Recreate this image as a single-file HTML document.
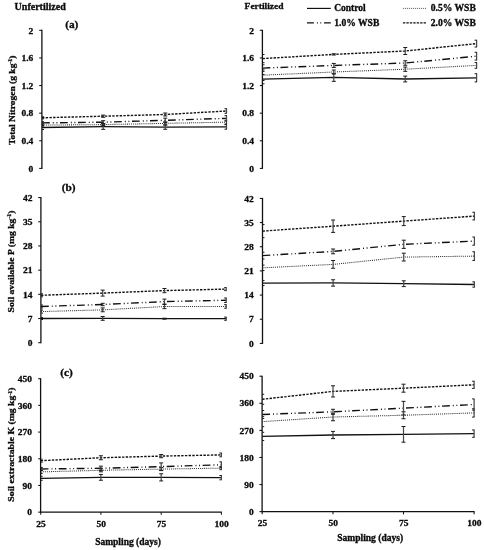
<!DOCTYPE html>
<html><head><meta charset="utf-8"><title>Figure</title>
<style>html,body{margin:0;padding:0;background:#fff}svg{display:block}svg text{font-family:"Liberation Serif","DejaVu Serif",serif}</style></head>
<body>
<svg width="484" height="550" viewBox="0 0 484 550" font-size="9.5" font-weight="bold" fill="#0a0a0a" stroke="#0a0a0a" stroke-width="0.32" paint-order="stroke">
<rect width="484" height="550" fill="#fff" stroke="none"/>
<line x1="41.90" y1="29.80" x2="41.90" y2="168.90" stroke="#111" stroke-width="1.3"/>
<line x1="39.20" y1="30.30" x2="41.90" y2="30.30" stroke="#111" stroke-width="1.05"/>
<text transform="translate(33.30 33.50) scale(1 0.86)" text-anchor="end" >2</text>
<line x1="39.20" y1="57.92" x2="41.90" y2="57.92" stroke="#111" stroke-width="1.05"/>
<text transform="translate(33.30 61.12) scale(1 0.86)" text-anchor="end" >1.6</text>
<line x1="39.20" y1="85.54" x2="41.90" y2="85.54" stroke="#111" stroke-width="1.05"/>
<text transform="translate(33.30 88.74) scale(1 0.86)" text-anchor="end" >1.2</text>
<line x1="39.20" y1="113.16" x2="41.90" y2="113.16" stroke="#111" stroke-width="1.05"/>
<text transform="translate(33.30 116.36) scale(1 0.86)" text-anchor="end" >0.8</text>
<line x1="39.20" y1="140.78" x2="41.90" y2="140.78" stroke="#111" stroke-width="1.05"/>
<text transform="translate(33.30 143.98) scale(1 0.86)" text-anchor="end" >0.4</text>
<line x1="39.20" y1="168.40" x2="41.90" y2="168.40" stroke="#111" stroke-width="1.05"/>
<text transform="translate(33.30 171.60) scale(1 0.86)" text-anchor="end" >0</text>
<path d="M42.00 127.50 L103.20 126.65 L165.25 127.15 L226.50 126.90" fill="none" stroke="#111" stroke-width="1.3"/>
<path d="M42.00 125.50 L44.00 125.50 M42.00 129.50 L44.00 129.50" fill="none" stroke="#1c1c1c" stroke-width="1"/>
<path d="M103.20 123.95 L103.20 129.35" fill="none" stroke="#4a4a4a" stroke-width="1.25"/>
<path d="M101.20 123.95 L105.20 123.95 M101.20 129.35 L105.20 129.35" fill="none" stroke="#1c1c1c" stroke-width="1"/>
<path d="M165.25 125.05 L165.25 129.25" fill="none" stroke="#4a4a4a" stroke-width="1.25"/>
<path d="M163.25 125.05 L167.25 125.05 M163.25 129.25 L167.25 129.25" fill="none" stroke="#1c1c1c" stroke-width="1"/>
<path d="M226.50 124.60 L226.50 129.20" fill="none" stroke="#4a4a4a" stroke-width="1.25"/>
<path d="M224.50 124.60 L226.95 124.60 M224.50 129.20 L226.95 129.20" fill="none" stroke="#1c1c1c" stroke-width="1"/>
<path d="M42.00 125.10 L103.20 124.60 L165.25 123.35 L226.50 122.15" fill="none" stroke="#333" stroke-width="1.05" stroke-dasharray="1.05 1.02"/>
<path d="M42.00 124.10 L44.00 124.10 M42.00 126.10 L44.00 126.10" fill="none" stroke="#1c1c1c" stroke-width="1"/>
<path d="M103.20 123.60 L103.20 125.60" fill="none" stroke="#4a4a4a" stroke-width="1.25"/>
<path d="M101.20 123.60 L105.20 123.60 M101.20 125.60 L105.20 125.60" fill="none" stroke="#1c1c1c" stroke-width="1"/>
<path d="M165.25 121.85 L165.25 124.85" fill="none" stroke="#4a4a4a" stroke-width="1.25"/>
<path d="M163.25 121.85 L167.25 121.85 M163.25 124.85 L167.25 124.85" fill="none" stroke="#1c1c1c" stroke-width="1"/>
<path d="M226.50 120.25 L226.50 124.05" fill="none" stroke="#4a4a4a" stroke-width="1.25"/>
<path d="M224.50 120.25 L226.95 120.25 M224.50 124.05 L226.95 124.05" fill="none" stroke="#1c1c1c" stroke-width="1"/>
<path d="M42.00 122.90 L103.20 122.20 L165.25 120.30 L226.50 118.35" fill="none" stroke="#111" stroke-width="1.4" stroke-dasharray="7.8 3 1 2.6 1 2.6"/>
<path d="M42.00 121.70 L44.00 121.70 M42.00 124.10 L44.00 124.10" fill="none" stroke="#1c1c1c" stroke-width="1"/>
<path d="M103.20 120.70 L103.20 123.70" fill="none" stroke="#4a4a4a" stroke-width="1.25"/>
<path d="M101.20 120.70 L105.20 120.70 M101.20 123.70 L105.20 123.70" fill="none" stroke="#1c1c1c" stroke-width="1"/>
<path d="M165.25 118.20 L165.25 122.40" fill="none" stroke="#4a4a4a" stroke-width="1.25"/>
<path d="M163.25 118.20 L167.25 118.20 M163.25 122.40 L167.25 122.40" fill="none" stroke="#1c1c1c" stroke-width="1"/>
<path d="M226.50 115.65 L226.50 121.05" fill="none" stroke="#4a4a4a" stroke-width="1.25"/>
<path d="M224.50 115.65 L226.95 115.65 M224.50 121.05 L226.95 121.05" fill="none" stroke="#1c1c1c" stroke-width="1"/>
<path d="M42.00 117.80 L103.20 116.20 L165.25 114.50 L226.50 111.00" fill="none" stroke="#111" stroke-width="1.4" stroke-dasharray="2.4 1.3"/>
<path d="M42.00 116.80 L44.00 116.80 M42.00 118.80 L44.00 118.80" fill="none" stroke="#1c1c1c" stroke-width="1"/>
<path d="M103.20 115.10 L103.20 117.30" fill="none" stroke="#4a4a4a" stroke-width="1.25"/>
<path d="M101.20 115.10 L105.20 115.10 M101.20 117.30 L105.20 117.30" fill="none" stroke="#1c1c1c" stroke-width="1"/>
<path d="M165.25 113.00 L165.25 116.00" fill="none" stroke="#4a4a4a" stroke-width="1.25"/>
<path d="M163.25 113.00 L167.25 113.00 M163.25 116.00 L167.25 116.00" fill="none" stroke="#1c1c1c" stroke-width="1"/>
<path d="M226.50 108.70 L226.50 113.30" fill="none" stroke="#4a4a4a" stroke-width="1.25"/>
<path d="M224.50 108.70 L226.95 108.70 M224.50 113.30 L226.95 113.30" fill="none" stroke="#1c1c1c" stroke-width="1"/>
<line x1="262.40" y1="29.80" x2="262.40" y2="168.90" stroke="#111" stroke-width="1.3"/>
<line x1="259.80" y1="30.30" x2="262.40" y2="30.30" stroke="#111" stroke-width="1.05"/>
<text transform="translate(254.00 33.50) scale(1 0.86)" text-anchor="end" >2</text>
<line x1="259.80" y1="57.92" x2="262.40" y2="57.92" stroke="#111" stroke-width="1.05"/>
<text transform="translate(254.00 61.12) scale(1 0.86)" text-anchor="end" >1.6</text>
<line x1="259.80" y1="85.54" x2="262.40" y2="85.54" stroke="#111" stroke-width="1.05"/>
<text transform="translate(254.00 88.74) scale(1 0.86)" text-anchor="end" >1.2</text>
<line x1="259.80" y1="113.16" x2="262.40" y2="113.16" stroke="#111" stroke-width="1.05"/>
<text transform="translate(254.00 116.36) scale(1 0.86)" text-anchor="end" >0.8</text>
<line x1="259.80" y1="140.78" x2="262.40" y2="140.78" stroke="#111" stroke-width="1.05"/>
<text transform="translate(254.00 143.98) scale(1 0.86)" text-anchor="end" >0.4</text>
<line x1="259.80" y1="168.40" x2="262.40" y2="168.40" stroke="#111" stroke-width="1.05"/>
<text transform="translate(254.00 171.60) scale(1 0.86)" text-anchor="end" >0</text>
<path d="M262.50 79.10 L333.80 77.45 L405.25 79.00 L476.60 77.80" fill="none" stroke="#111" stroke-width="1.3"/>
<path d="M262.50 74.40 L264.50 74.40 M262.50 83.80 L264.50 83.80" fill="none" stroke="#1c1c1c" stroke-width="1"/>
<path d="M333.80 73.55 L333.80 81.35" fill="none" stroke="#4a4a4a" stroke-width="1.25"/>
<path d="M331.80 73.55 L335.80 73.55 M331.80 81.35 L335.80 81.35" fill="none" stroke="#1c1c1c" stroke-width="1"/>
<path d="M405.25 76.10 L405.25 81.90" fill="none" stroke="#4a4a4a" stroke-width="1.25"/>
<path d="M403.25 76.10 L407.25 76.10 M403.25 81.90 L407.25 81.90" fill="none" stroke="#1c1c1c" stroke-width="1"/>
<path d="M476.60 73.70 L476.60 81.90" fill="none" stroke="#4a4a4a" stroke-width="1.25"/>
<path d="M474.60 73.70 L477.05 73.70 M474.60 81.90 L477.05 81.90" fill="none" stroke="#1c1c1c" stroke-width="1"/>
<path d="M262.50 75.20 L333.80 72.00 L405.25 69.20 L476.60 65.40" fill="none" stroke="#333" stroke-width="1.05" stroke-dasharray="1.05 1.02"/>
<path d="M262.50 69.90 L264.50 69.90 M262.50 80.50 L264.50 80.50" fill="none" stroke="#1c1c1c" stroke-width="1"/>
<path d="M333.80 70.00 L333.80 74.00" fill="none" stroke="#4a4a4a" stroke-width="1.25"/>
<path d="M331.80 70.00 L335.80 70.00 M331.80 74.00 L335.80 74.00" fill="none" stroke="#1c1c1c" stroke-width="1"/>
<path d="M405.25 67.05 L405.25 71.35" fill="none" stroke="#4a4a4a" stroke-width="1.25"/>
<path d="M403.25 67.05 L407.25 67.05 M403.25 71.35 L407.25 71.35" fill="none" stroke="#1c1c1c" stroke-width="1"/>
<path d="M476.60 62.55 L476.60 68.25" fill="none" stroke="#4a4a4a" stroke-width="1.25"/>
<path d="M474.60 62.55 L477.05 62.55 M474.60 68.25 L477.05 68.25" fill="none" stroke="#1c1c1c" stroke-width="1"/>
<path d="M262.50 68.10 L333.80 65.45 L405.25 63.00 L476.60 56.20" fill="none" stroke="#111" stroke-width="1.4" stroke-dasharray="7.8 3 1 2.6 1 2.6"/>
<path d="M262.50 64.80 L264.50 64.80 M262.50 71.40 L264.50 71.40" fill="none" stroke="#1c1c1c" stroke-width="1"/>
<path d="M333.80 63.45 L333.80 67.45" fill="none" stroke="#4a4a4a" stroke-width="1.25"/>
<path d="M331.80 63.45 L335.80 63.45 M331.80 67.45 L335.80 67.45" fill="none" stroke="#1c1c1c" stroke-width="1"/>
<path d="M405.25 60.75 L405.25 65.25" fill="none" stroke="#4a4a4a" stroke-width="1.25"/>
<path d="M403.25 60.75 L407.25 60.75 M403.25 65.25 L407.25 65.25" fill="none" stroke="#1c1c1c" stroke-width="1"/>
<path d="M476.60 52.30 L476.60 60.10" fill="none" stroke="#4a4a4a" stroke-width="1.25"/>
<path d="M474.60 52.30 L477.05 52.30 M474.60 60.10 L477.05 60.10" fill="none" stroke="#1c1c1c" stroke-width="1"/>
<path d="M262.50 58.60 L333.80 54.40 L405.25 51.00 L476.60 43.60" fill="none" stroke="#111" stroke-width="1.4" stroke-dasharray="2.4 1.3"/>
<path d="M262.50 54.50 L264.50 54.50 M262.50 62.70 L264.50 62.70" fill="none" stroke="#1c1c1c" stroke-width="1"/>
<path d="M333.80 53.80 L333.80 55.00" fill="none" stroke="#4a4a4a" stroke-width="1.25"/>
<path d="M331.80 53.80 L335.80 53.80 M331.80 55.00 L335.80 55.00" fill="none" stroke="#1c1c1c" stroke-width="1"/>
<path d="M405.25 47.50 L405.25 54.50" fill="none" stroke="#4a4a4a" stroke-width="1.25"/>
<path d="M403.25 47.50 L407.25 47.50 M403.25 54.50 L407.25 54.50" fill="none" stroke="#1c1c1c" stroke-width="1"/>
<path d="M476.60 40.20 L476.60 47.00" fill="none" stroke="#4a4a4a" stroke-width="1.25"/>
<path d="M474.60 40.20 L477.05 40.20 M474.60 47.00 L477.05 47.00" fill="none" stroke="#1c1c1c" stroke-width="1"/>
<line x1="40.90" y1="197.10" x2="40.90" y2="343.20" stroke="#111" stroke-width="1.3"/>
<line x1="38.20" y1="197.60" x2="40.90" y2="197.60" stroke="#111" stroke-width="1.05"/>
<text transform="translate(32.40 200.80) scale(1 0.86)" text-anchor="end" >42</text>
<line x1="38.20" y1="221.78" x2="40.90" y2="221.78" stroke="#111" stroke-width="1.05"/>
<text transform="translate(32.40 224.98) scale(1 0.86)" text-anchor="end" >35</text>
<line x1="38.20" y1="245.97" x2="40.90" y2="245.97" stroke="#111" stroke-width="1.05"/>
<text transform="translate(32.40 249.17) scale(1 0.86)" text-anchor="end" >28</text>
<line x1="38.20" y1="270.15" x2="40.90" y2="270.15" stroke="#111" stroke-width="1.05"/>
<text transform="translate(32.40 273.35) scale(1 0.86)" text-anchor="end" >21</text>
<line x1="38.20" y1="294.33" x2="40.90" y2="294.33" stroke="#111" stroke-width="1.05"/>
<text transform="translate(32.40 297.53) scale(1 0.86)" text-anchor="end" >14</text>
<line x1="38.20" y1="318.52" x2="40.90" y2="318.52" stroke="#111" stroke-width="1.05"/>
<text transform="translate(32.40 321.72) scale(1 0.86)" text-anchor="end" >7</text>
<line x1="38.20" y1="342.70" x2="40.90" y2="342.70" stroke="#111" stroke-width="1.05"/>
<text transform="translate(32.40 345.90) scale(1 0.86)" text-anchor="end" >0</text>
<path d="M41.00 318.50 L102.70 318.40 L164.45 318.70 L226.20 318.70" fill="none" stroke="#111" stroke-width="1.3"/>
<path d="M41.00 317.50 L43.00 317.50 M41.00 319.50 L43.00 319.50" fill="none" stroke="#1c1c1c" stroke-width="1"/>
<path d="M102.70 316.50 L102.70 320.30" fill="none" stroke="#4a4a4a" stroke-width="1.25"/>
<path d="M100.70 316.50 L104.70 316.50 M100.70 320.30 L104.70 320.30" fill="none" stroke="#1c1c1c" stroke-width="1"/>
<path d="M164.45 318.20 L164.45 319.20" fill="none" stroke="#4a4a4a" stroke-width="1.25"/>
<path d="M162.45 318.20 L166.45 318.20 M162.45 319.20 L166.45 319.20" fill="none" stroke="#1c1c1c" stroke-width="1"/>
<path d="M226.20 317.10 L226.20 320.30" fill="none" stroke="#4a4a4a" stroke-width="1.25"/>
<path d="M224.20 317.10 L226.65 317.10 M224.20 320.30 L226.65 320.30" fill="none" stroke="#1c1c1c" stroke-width="1"/>
<path d="M41.00 311.60 L102.70 309.85 L164.45 306.55 L226.20 306.45" fill="none" stroke="#333" stroke-width="1.05" stroke-dasharray="1.05 1.02"/>
<path d="M41.00 310.10 L43.00 310.10 M41.00 313.10 L43.00 313.10" fill="none" stroke="#1c1c1c" stroke-width="1"/>
<path d="M102.70 307.95 L102.70 311.75" fill="none" stroke="#4a4a4a" stroke-width="1.25"/>
<path d="M100.70 307.95 L104.70 307.95 M100.70 311.75 L104.70 311.75" fill="none" stroke="#1c1c1c" stroke-width="1"/>
<path d="M164.45 304.45 L164.45 308.65" fill="none" stroke="#4a4a4a" stroke-width="1.25"/>
<path d="M162.45 304.45 L166.45 304.45 M162.45 308.65 L166.45 308.65" fill="none" stroke="#1c1c1c" stroke-width="1"/>
<path d="M226.20 304.65 L226.20 308.25" fill="none" stroke="#4a4a4a" stroke-width="1.25"/>
<path d="M224.20 304.65 L226.65 304.65 M224.20 308.25 L226.65 308.25" fill="none" stroke="#1c1c1c" stroke-width="1"/>
<path d="M41.00 306.50 L102.70 304.50 L164.45 301.60 L226.20 300.25" fill="none" stroke="#111" stroke-width="1.4" stroke-dasharray="7.8 3 1 2.6 1 2.6"/>
<path d="M41.00 305.00 L43.00 305.00 M41.00 308.00 L43.00 308.00" fill="none" stroke="#1c1c1c" stroke-width="1"/>
<path d="M102.70 303.30 L102.70 305.70" fill="none" stroke="#4a4a4a" stroke-width="1.25"/>
<path d="M100.70 303.30 L104.70 303.30 M100.70 305.70 L104.70 305.70" fill="none" stroke="#1c1c1c" stroke-width="1"/>
<path d="M164.45 299.10 L164.45 304.10" fill="none" stroke="#4a4a4a" stroke-width="1.25"/>
<path d="M162.45 299.10 L166.45 299.10 M162.45 304.10 L166.45 304.10" fill="none" stroke="#1c1c1c" stroke-width="1"/>
<path d="M226.20 297.95 L226.20 302.55" fill="none" stroke="#4a4a4a" stroke-width="1.25"/>
<path d="M224.20 297.95 L226.65 297.95 M224.20 302.55 L226.65 302.55" fill="none" stroke="#1c1c1c" stroke-width="1"/>
<path d="M41.00 295.30 L102.70 293.10 L164.45 290.60 L226.20 289.10" fill="none" stroke="#111" stroke-width="1.4" stroke-dasharray="2.4 1.3"/>
<path d="M41.00 293.80 L43.00 293.80 M41.00 296.80 L43.00 296.80" fill="none" stroke="#1c1c1c" stroke-width="1"/>
<path d="M102.70 290.10 L102.70 296.10" fill="none" stroke="#4a4a4a" stroke-width="1.25"/>
<path d="M100.70 290.10 L104.70 290.10 M100.70 296.10 L104.70 296.10" fill="none" stroke="#1c1c1c" stroke-width="1"/>
<path d="M164.45 288.50 L164.45 292.70" fill="none" stroke="#4a4a4a" stroke-width="1.25"/>
<path d="M162.45 288.50 L166.45 288.50 M162.45 292.70 L166.45 292.70" fill="none" stroke="#1c1c1c" stroke-width="1"/>
<path d="M226.20 287.60 L226.20 290.60" fill="none" stroke="#4a4a4a" stroke-width="1.25"/>
<path d="M224.20 287.60 L226.65 287.60 M224.20 290.60 L226.65 290.60" fill="none" stroke="#1c1c1c" stroke-width="1"/>
<line x1="262.50" y1="197.90" x2="262.50" y2="343.90" stroke="#111" stroke-width="1.3"/>
<line x1="259.80" y1="198.40" x2="262.50" y2="198.40" stroke="#111" stroke-width="1.05"/>
<text transform="translate(253.70 201.60) scale(1 0.86)" text-anchor="end" >42</text>
<line x1="259.80" y1="222.57" x2="262.50" y2="222.57" stroke="#111" stroke-width="1.05"/>
<text transform="translate(253.70 225.77) scale(1 0.86)" text-anchor="end" >35</text>
<line x1="259.80" y1="246.73" x2="262.50" y2="246.73" stroke="#111" stroke-width="1.05"/>
<text transform="translate(253.70 249.93) scale(1 0.86)" text-anchor="end" >28</text>
<line x1="259.80" y1="270.90" x2="262.50" y2="270.90" stroke="#111" stroke-width="1.05"/>
<text transform="translate(253.70 274.10) scale(1 0.86)" text-anchor="end" >21</text>
<line x1="259.80" y1="295.07" x2="262.50" y2="295.07" stroke="#111" stroke-width="1.05"/>
<text transform="translate(253.70 298.27) scale(1 0.86)" text-anchor="end" >14</text>
<line x1="259.80" y1="319.23" x2="262.50" y2="319.23" stroke="#111" stroke-width="1.05"/>
<text transform="translate(253.70 322.43) scale(1 0.86)" text-anchor="end" >7</text>
<line x1="259.80" y1="343.40" x2="262.50" y2="343.40" stroke="#111" stroke-width="1.05"/>
<text transform="translate(253.70 346.60) scale(1 0.86)" text-anchor="end" >0</text>
<path d="M262.50 283.05 L333.10 282.95 L403.75 283.70 L474.40 284.50" fill="none" stroke="#111" stroke-width="1.3"/>
<path d="M262.50 280.55 L264.50 280.55 M262.50 285.55 L264.50 285.55" fill="none" stroke="#1c1c1c" stroke-width="1"/>
<path d="M333.10 279.75 L333.10 286.15" fill="none" stroke="#4a4a4a" stroke-width="1.25"/>
<path d="M331.10 279.75 L335.10 279.75 M331.10 286.15 L335.10 286.15" fill="none" stroke="#1c1c1c" stroke-width="1"/>
<path d="M403.75 280.80 L403.75 286.60" fill="none" stroke="#4a4a4a" stroke-width="1.25"/>
<path d="M401.75 280.80 L405.75 280.80 M401.75 286.60 L405.75 286.60" fill="none" stroke="#1c1c1c" stroke-width="1"/>
<path d="M474.40 281.85 L474.40 287.15" fill="none" stroke="#4a4a4a" stroke-width="1.25"/>
<path d="M472.40 281.85 L474.85 281.85 M472.40 287.15 L474.85 287.15" fill="none" stroke="#1c1c1c" stroke-width="1"/>
<path d="M262.50 267.80 L333.10 264.40 L403.75 257.10 L474.40 256.10" fill="none" stroke="#333" stroke-width="1.05" stroke-dasharray="1.05 1.02"/>
<path d="M262.50 265.10 L264.50 265.10 M262.50 270.50 L264.50 270.50" fill="none" stroke="#1c1c1c" stroke-width="1"/>
<path d="M333.10 260.50 L333.10 268.30" fill="none" stroke="#4a4a4a" stroke-width="1.25"/>
<path d="M331.10 260.50 L335.10 260.50 M331.10 268.30 L335.10 268.30" fill="none" stroke="#1c1c1c" stroke-width="1"/>
<path d="M403.75 253.20 L403.75 261.00" fill="none" stroke="#4a4a4a" stroke-width="1.25"/>
<path d="M401.75 253.20 L405.75 253.20 M401.75 261.00 L405.75 261.00" fill="none" stroke="#1c1c1c" stroke-width="1"/>
<path d="M474.40 251.75 L474.40 260.45" fill="none" stroke="#4a4a4a" stroke-width="1.25"/>
<path d="M472.40 251.75 L474.85 251.75 M472.40 260.45 L474.85 260.45" fill="none" stroke="#1c1c1c" stroke-width="1"/>
<path d="M262.50 255.60 L333.10 251.40 L403.75 244.30 L474.40 241.10" fill="none" stroke="#111" stroke-width="1.4" stroke-dasharray="7.8 3 1 2.6 1 2.6"/>
<path d="M262.50 252.20 L264.50 252.20 M262.50 259.00 L264.50 259.00" fill="none" stroke="#1c1c1c" stroke-width="1"/>
<path d="M333.10 249.00 L333.10 253.80" fill="none" stroke="#4a4a4a" stroke-width="1.25"/>
<path d="M331.10 249.00 L335.10 249.00 M331.10 253.80 L335.10 253.80" fill="none" stroke="#1c1c1c" stroke-width="1"/>
<path d="M403.75 240.20 L403.75 248.40" fill="none" stroke="#4a4a4a" stroke-width="1.25"/>
<path d="M401.75 240.20 L405.75 240.20 M401.75 248.40 L405.75 248.40" fill="none" stroke="#1c1c1c" stroke-width="1"/>
<path d="M474.40 237.00 L474.40 245.20" fill="none" stroke="#4a4a4a" stroke-width="1.25"/>
<path d="M472.40 237.00 L474.85 237.00 M472.40 245.20 L474.85 245.20" fill="none" stroke="#1c1c1c" stroke-width="1"/>
<path d="M262.50 231.10 L333.10 226.20 L403.75 221.10 L474.40 216.10" fill="none" stroke="#111" stroke-width="1.4" stroke-dasharray="2.4 1.3"/>
<path d="M262.50 224.50 L264.50 224.50 M262.50 237.70 L264.50 237.70" fill="none" stroke="#1c1c1c" stroke-width="1"/>
<path d="M333.10 220.00 L333.10 232.40" fill="none" stroke="#4a4a4a" stroke-width="1.25"/>
<path d="M331.10 220.00 L335.10 220.00 M331.10 232.40 L335.10 232.40" fill="none" stroke="#1c1c1c" stroke-width="1"/>
<path d="M403.75 216.60 L403.75 225.60" fill="none" stroke="#4a4a4a" stroke-width="1.25"/>
<path d="M401.75 216.60 L405.75 216.60 M401.75 225.60 L405.75 225.60" fill="none" stroke="#1c1c1c" stroke-width="1"/>
<path d="M474.40 212.25 L474.40 219.95" fill="none" stroke="#4a4a4a" stroke-width="1.25"/>
<path d="M472.40 212.25 L474.85 212.25 M472.40 219.95 L474.85 219.95" fill="none" stroke="#1c1c1c" stroke-width="1"/>
<line x1="40.60" y1="378.20" x2="40.60" y2="512.65" stroke="#111" stroke-width="1.3"/>
<line x1="38.20" y1="378.70" x2="40.60" y2="378.70" stroke="#111" stroke-width="1.05"/>
<text transform="translate(32.00 381.90) scale(1 0.86)" text-anchor="end" >450</text>
<line x1="38.20" y1="405.39" x2="40.60" y2="405.39" stroke="#111" stroke-width="1.05"/>
<text transform="translate(32.00 408.59) scale(1 0.86)" text-anchor="end" >360</text>
<line x1="38.20" y1="432.08" x2="40.60" y2="432.08" stroke="#111" stroke-width="1.05"/>
<text transform="translate(32.00 435.28) scale(1 0.86)" text-anchor="end" >270</text>
<line x1="38.20" y1="458.77" x2="40.60" y2="458.77" stroke="#111" stroke-width="1.05"/>
<text transform="translate(32.00 461.97) scale(1 0.86)" text-anchor="end" >180</text>
<line x1="38.20" y1="485.46" x2="40.60" y2="485.46" stroke="#111" stroke-width="1.05"/>
<text transform="translate(32.00 488.66) scale(1 0.86)" text-anchor="end" >90</text>
<line x1="38.20" y1="512.15" x2="40.60" y2="512.15" stroke="#111" stroke-width="1.05"/>
<text transform="translate(32.00 515.35) scale(1 0.86)" text-anchor="end" >0</text>
<line x1="40.00" y1="512.15" x2="221.90" y2="512.15" stroke="#111" stroke-width="1.3"/>
<line x1="40.70" y1="512.15" x2="40.70" y2="514.85" stroke="#111" stroke-width="1.05"/>
<text transform="translate(41.00 526.80) scale(1 0.86)" text-anchor="middle" >25</text>
<line x1="100.90" y1="512.15" x2="100.90" y2="514.85" stroke="#111" stroke-width="1.05"/>
<text transform="translate(101.20 526.80) scale(1 0.86)" text-anchor="middle" >50</text>
<line x1="161.20" y1="512.15" x2="161.20" y2="514.85" stroke="#111" stroke-width="1.05"/>
<text transform="translate(161.50 526.80) scale(1 0.86)" text-anchor="middle" >75</text>
<line x1="221.40" y1="512.15" x2="221.40" y2="514.85" stroke="#111" stroke-width="1.05"/>
<text transform="translate(221.70 526.80) scale(1 0.86)" text-anchor="middle" >100</text>
<path d="M40.70 478.30 L100.90 477.35 L161.20 477.35 L221.40 477.65" fill="none" stroke="#111" stroke-width="1.3"/>
<path d="M40.70 476.30 L42.70 476.30 M40.70 480.30 L42.70 480.30" fill="none" stroke="#1c1c1c" stroke-width="1"/>
<path d="M100.90 474.45 L100.90 480.25" fill="none" stroke="#4a4a4a" stroke-width="1.25"/>
<path d="M98.90 474.45 L102.90 474.45 M98.90 480.25 L102.90 480.25" fill="none" stroke="#1c1c1c" stroke-width="1"/>
<path d="M161.20 473.75 L161.20 480.95" fill="none" stroke="#4a4a4a" stroke-width="1.25"/>
<path d="M159.20 473.75 L163.20 473.75 M159.20 480.95 L163.20 480.95" fill="none" stroke="#1c1c1c" stroke-width="1"/>
<path d="M221.40 475.50 L221.40 479.80" fill="none" stroke="#4a4a4a" stroke-width="1.25"/>
<path d="M219.40 475.50 L221.85 475.50 M219.40 479.80 L221.85 479.80" fill="none" stroke="#1c1c1c" stroke-width="1"/>
<path d="M40.70 471.90 L100.90 470.30 L161.20 469.10 L221.40 468.10" fill="none" stroke="#333" stroke-width="1.05" stroke-dasharray="1.05 1.02"/>
<path d="M40.70 470.40 L42.70 470.40 M40.70 473.40 L42.70 473.40" fill="none" stroke="#1c1c1c" stroke-width="1"/>
<path d="M100.90 468.80 L100.90 471.80" fill="none" stroke="#4a4a4a" stroke-width="1.25"/>
<path d="M98.90 468.80 L102.90 468.80 M98.90 471.80 L102.90 471.80" fill="none" stroke="#1c1c1c" stroke-width="1"/>
<path d="M161.20 467.60 L161.20 470.60" fill="none" stroke="#4a4a4a" stroke-width="1.25"/>
<path d="M159.20 467.60 L163.20 467.60 M159.20 470.60 L163.20 470.60" fill="none" stroke="#1c1c1c" stroke-width="1"/>
<path d="M221.40 466.50 L221.40 469.70" fill="none" stroke="#4a4a4a" stroke-width="1.25"/>
<path d="M219.40 466.50 L221.85 466.50 M219.40 469.70 L221.85 469.70" fill="none" stroke="#1c1c1c" stroke-width="1"/>
<path d="M40.70 469.00 L100.90 468.25 L161.20 466.60 L221.40 464.80" fill="none" stroke="#111" stroke-width="1.4" stroke-dasharray="7.8 3 1 2.6 1 2.6"/>
<path d="M40.70 467.50 L42.70 467.50 M40.70 470.50 L42.70 470.50" fill="none" stroke="#1c1c1c" stroke-width="1"/>
<path d="M100.90 466.15 L100.90 470.35" fill="none" stroke="#4a4a4a" stroke-width="1.25"/>
<path d="M98.90 466.15 L102.90 466.15 M98.90 470.35 L102.90 470.35" fill="none" stroke="#1c1c1c" stroke-width="1"/>
<path d="M161.20 462.90 L161.20 470.30" fill="none" stroke="#4a4a4a" stroke-width="1.25"/>
<path d="M159.20 462.90 L163.20 462.90 M159.20 470.30 L163.20 470.30" fill="none" stroke="#1c1c1c" stroke-width="1"/>
<path d="M221.40 461.90 L221.40 467.70" fill="none" stroke="#4a4a4a" stroke-width="1.25"/>
<path d="M219.40 461.90 L221.85 461.90 M219.40 467.70 L221.85 467.70" fill="none" stroke="#1c1c1c" stroke-width="1"/>
<path d="M40.70 460.70 L100.90 457.75 L161.20 456.10 L221.40 454.90" fill="none" stroke="#111" stroke-width="1.4" stroke-dasharray="2.4 1.3"/>
<path d="M40.70 459.20 L42.70 459.20 M40.70 462.20 L42.70 462.20" fill="none" stroke="#1c1c1c" stroke-width="1"/>
<path d="M100.90 455.75 L100.90 459.75" fill="none" stroke="#4a4a4a" stroke-width="1.25"/>
<path d="M98.90 455.75 L102.90 455.75 M98.90 459.75 L102.90 459.75" fill="none" stroke="#1c1c1c" stroke-width="1"/>
<path d="M161.20 454.50 L161.20 457.70" fill="none" stroke="#4a4a4a" stroke-width="1.25"/>
<path d="M159.20 454.50 L163.20 454.50 M159.20 457.70 L163.20 457.70" fill="none" stroke="#1c1c1c" stroke-width="1"/>
<path d="M221.40 453.00 L221.40 456.80" fill="none" stroke="#4a4a4a" stroke-width="1.25"/>
<path d="M219.40 453.00 L221.85 453.00 M219.40 456.80 L221.85 456.80" fill="none" stroke="#1c1c1c" stroke-width="1"/>
<line x1="262.10" y1="375.70" x2="262.10" y2="512.15" stroke="#111" stroke-width="1.3"/>
<line x1="259.40" y1="376.20" x2="262.10" y2="376.20" stroke="#111" stroke-width="1.05"/>
<text transform="translate(253.70 379.40) scale(1 0.86)" text-anchor="end" >450</text>
<line x1="259.40" y1="403.29" x2="262.10" y2="403.29" stroke="#111" stroke-width="1.05"/>
<text transform="translate(253.70 406.49) scale(1 0.86)" text-anchor="end" >360</text>
<line x1="259.40" y1="430.38" x2="262.10" y2="430.38" stroke="#111" stroke-width="1.05"/>
<text transform="translate(253.70 433.58) scale(1 0.86)" text-anchor="end" >270</text>
<line x1="259.40" y1="457.47" x2="262.10" y2="457.47" stroke="#111" stroke-width="1.05"/>
<text transform="translate(253.70 460.67) scale(1 0.86)" text-anchor="end" >180</text>
<line x1="259.40" y1="484.56" x2="262.10" y2="484.56" stroke="#111" stroke-width="1.05"/>
<text transform="translate(253.70 487.76) scale(1 0.86)" text-anchor="end" >90</text>
<line x1="259.40" y1="511.65" x2="262.10" y2="511.65" stroke="#111" stroke-width="1.05"/>
<text transform="translate(253.70 514.85) scale(1 0.86)" text-anchor="end" >0</text>
<line x1="261.50" y1="511.65" x2="474.60" y2="511.65" stroke="#111" stroke-width="1.3"/>
<line x1="262.20" y1="511.65" x2="262.20" y2="514.35" stroke="#111" stroke-width="1.05"/>
<text transform="translate(262.50 526.30) scale(1 0.86)" text-anchor="middle" >25</text>
<line x1="333.00" y1="511.65" x2="333.00" y2="514.35" stroke="#111" stroke-width="1.05"/>
<text transform="translate(333.30 526.30) scale(1 0.86)" text-anchor="middle" >50</text>
<line x1="403.50" y1="511.65" x2="403.50" y2="514.35" stroke="#111" stroke-width="1.05"/>
<text transform="translate(403.80 526.30) scale(1 0.86)" text-anchor="middle" >75</text>
<line x1="474.10" y1="511.65" x2="474.10" y2="514.35" stroke="#111" stroke-width="1.05"/>
<text transform="translate(474.40 526.30) scale(1 0.86)" text-anchor="middle" >100</text>
<path d="M262.20 436.40 L333.00 435.00 L403.50 434.35 L474.10 433.60" fill="none" stroke="#111" stroke-width="1.3"/>
<path d="M262.20 432.30 L264.20 432.30 M262.20 440.50 L264.20 440.50" fill="none" stroke="#1c1c1c" stroke-width="1"/>
<path d="M333.00 431.40 L333.00 438.60" fill="none" stroke="#4a4a4a" stroke-width="1.25"/>
<path d="M331.00 431.40 L335.00 431.40 M331.00 438.60 L335.00 438.60" fill="none" stroke="#1c1c1c" stroke-width="1"/>
<path d="M403.50 426.50 L403.50 442.20" fill="none" stroke="#4a4a4a" stroke-width="1.25"/>
<path d="M401.50 426.50 L405.50 426.50 M401.50 442.20 L405.50 442.20" fill="none" stroke="#1c1c1c" stroke-width="1"/>
<path d="M474.10 429.90 L474.10 437.30" fill="none" stroke="#4a4a4a" stroke-width="1.25"/>
<path d="M472.10 429.90 L474.55 429.90 M472.10 437.30 L474.55 437.30" fill="none" stroke="#1c1c1c" stroke-width="1"/>
<path d="M262.20 421.65 L333.00 417.00 L403.50 415.25 L474.10 412.90" fill="none" stroke="#333" stroke-width="1.05" stroke-dasharray="1.05 1.02"/>
<path d="M262.20 416.65 L264.20 416.65 M262.20 426.65 L264.20 426.65" fill="none" stroke="#1c1c1c" stroke-width="1"/>
<path d="M333.00 413.25 L333.00 420.75" fill="none" stroke="#4a4a4a" stroke-width="1.25"/>
<path d="M331.00 413.25 L335.00 413.25 M331.00 420.75 L335.00 420.75" fill="none" stroke="#1c1c1c" stroke-width="1"/>
<path d="M403.50 411.75 L403.50 418.75" fill="none" stroke="#4a4a4a" stroke-width="1.25"/>
<path d="M401.50 411.75 L405.50 411.75 M401.50 418.75 L405.50 418.75" fill="none" stroke="#1c1c1c" stroke-width="1"/>
<path d="M474.10 408.70 L474.10 417.10" fill="none" stroke="#4a4a4a" stroke-width="1.25"/>
<path d="M472.10 408.70 L474.55 408.70 M472.10 417.10 L474.55 417.10" fill="none" stroke="#1c1c1c" stroke-width="1"/>
<path d="M262.20 414.50 L333.00 411.80 L403.50 408.15 L474.10 404.50" fill="none" stroke="#111" stroke-width="1.4" stroke-dasharray="7.8 3 1 2.6 1 2.6"/>
<path d="M262.20 410.50 L264.20 410.50 M262.20 418.50 L264.20 418.50" fill="none" stroke="#1c1c1c" stroke-width="1"/>
<path d="M333.00 409.30 L333.00 414.30" fill="none" stroke="#4a4a4a" stroke-width="1.25"/>
<path d="M331.00 409.30 L335.00 409.30 M331.00 414.30 L335.00 414.30" fill="none" stroke="#1c1c1c" stroke-width="1"/>
<path d="M403.50 401.35 L403.50 414.95" fill="none" stroke="#4a4a4a" stroke-width="1.25"/>
<path d="M401.50 401.35 L405.50 401.35 M401.50 414.95 L405.50 414.95" fill="none" stroke="#1c1c1c" stroke-width="1"/>
<path d="M474.10 398.90 L474.10 410.10" fill="none" stroke="#4a4a4a" stroke-width="1.25"/>
<path d="M472.10 398.90 L474.55 398.90 M472.10 410.10 L474.55 410.10" fill="none" stroke="#1c1c1c" stroke-width="1"/>
<path d="M262.20 399.30 L333.00 391.40 L403.50 388.20 L474.10 384.80" fill="none" stroke="#111" stroke-width="1.4" stroke-dasharray="2.4 1.3"/>
<path d="M262.20 394.30 L264.20 394.30 M262.20 404.30 L264.20 404.30" fill="none" stroke="#1c1c1c" stroke-width="1"/>
<path d="M333.00 385.80 L333.00 397.00" fill="none" stroke="#4a4a4a" stroke-width="1.25"/>
<path d="M331.00 385.80 L335.00 385.80 M331.00 397.00 L335.00 397.00" fill="none" stroke="#1c1c1c" stroke-width="1"/>
<path d="M403.50 384.20 L403.50 392.20" fill="none" stroke="#4a4a4a" stroke-width="1.25"/>
<path d="M401.50 384.20 L405.50 384.20 M401.50 392.20 L405.50 392.20" fill="none" stroke="#1c1c1c" stroke-width="1"/>
<path d="M474.10 381.20 L474.10 388.40" fill="none" stroke="#4a4a4a" stroke-width="1.25"/>
<path d="M472.10 381.20 L474.55 381.20 M472.10 388.40 L474.55 388.40" fill="none" stroke="#1c1c1c" stroke-width="1"/>
<text x="14.60" y="9.70" text-anchor="start" font-size="10">Unfertilized</text>
<text transform="translate(244.60 9.00) scale(1 0.9)" text-anchor="start" >Fertilized</text>
<text x="71.80" y="27.70" text-anchor="middle" font-size="11.3">(a)</text>
<text x="68.60" y="190.50" text-anchor="middle" font-size="11.3">(b)</text>
<text x="66.50" y="375.70" text-anchor="middle" font-size="11.3">(c)</text>
<line x1="307" y1="8.4" x2="330.8" y2="8.4" stroke="#111" stroke-width="1.15"/>
<text x="334.20" y="11.30" text-anchor="start" >Control</text>
<line x1="402.9" y1="8.4" x2="426.2" y2="8.4" stroke="#444" stroke-width="0.9" stroke-dasharray="1 1"/>
<text x="430.70" y="11.30" text-anchor="start" font-size="9.6">0.5% WSB</text>
<line x1="307" y1="22.9" x2="330.8" y2="22.9" stroke="#111" stroke-width="1.25" stroke-dasharray="6.9 3 1 2.4 1 2.7 6.8 0"/>
<text x="334.20" y="26.10" text-anchor="start" font-size="9.6">1.0% WSB</text>
<line x1="402.9" y1="22.9" x2="426.2" y2="22.9" stroke="#111" stroke-width="1.15" stroke-dasharray="2.4 1.05"/>
<text x="430.70" y="26.10" text-anchor="start" font-size="9.6">2.0% WSB</text>
<text x="128.00" y="544.70" text-anchor="middle" >Sampling (days)</text>
<text x="370.20" y="540.60" text-anchor="middle" >Sampling (days)</text>
<text transform="translate(14.60 100.30) rotate(-90) scale(1 0.9)" text-anchor="middle" font-size="9.5">Total Nitrogen (g kg<tspan dy="-3.2" font-size="5.8">-1</tspan><tspan dy="3.2">)</tspan></text>
<text transform="translate(14.00 261.50) rotate(-90) scale(1 0.9)" text-anchor="middle" font-size="9.68">Soil available P (mg kg<tspan dy="-3.2" font-size="5.8">-1</tspan><tspan dy="3.2">)</tspan></text>
<text transform="translate(14.40 444.60) rotate(-90) scale(1 0.9)" text-anchor="middle" font-size="9.75">Soil extractable K (mg kg<tspan dy="-3.2" font-size="5.8">-1</tspan><tspan dy="3.2">)</tspan></text>
</svg>
</body></html>
